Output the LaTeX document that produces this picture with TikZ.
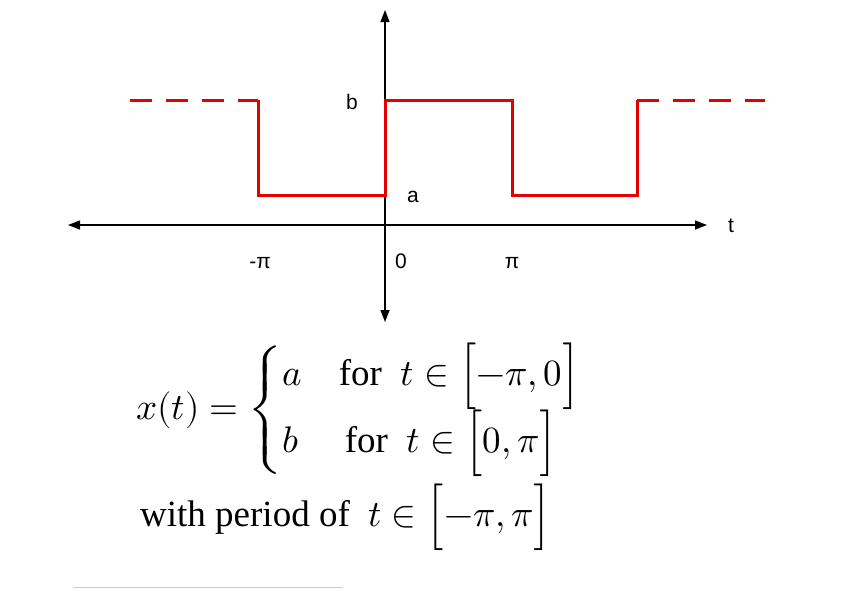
\documentclass[tikz,border=0pt]{standalone}
\usepackage{amsmath}
\usepackage{unicode-math}
\setmainfont{Liberation Serif}
\setmathfont{Latin Modern Math}
\newfontfamily\lab{Liberation Sans}
\usetikzlibrary{arrows.meta}
\tikzset{ax/.style={line width=1.4pt,{Triangle[length=12pt,width=9pt]}-{Triangle[length=12pt,width=9pt]}},
sig/.style={red!90!black,line width=3pt},
lbl/.style={font=\lab\fontsize{21}{24}\selectfont,inner sep=0pt}}
\begin{document}
\begin{tikzpicture}[x=1pt,y=-1pt]
\useasboundingbox (0,0) rectangle (866,590);
\coordinate (L) at (68,225); \coordinate (R) at (707,225);
\coordinate (T) at (385,10); \coordinate (B) at (385,322);
\draw[ax] (L) -- (R);
\draw[ax] (T) -- (B);
\draw[sig,dash pattern=on 22pt off 14pt] (130,100) -- (258,100);
\draw[sig] (258,100) -- (258,195) -- (385,195) -- (385,100) -- (512,100) -- (512,195) -- (637,195) -- (637,100);
\draw[sig,dash pattern=on 22pt off 14pt] (637,100) -- (765,100);
\node[lbl] (lb) at (352,102) {b};
\node[lbl] (la) at (413,197) {a};
\node[lbl] (lt) at (731,226) {t};
\node[lbl] (lmp) at (260,263) {-π};
\node[lbl] (l0) at (401,261) {0};
\node[lbl] (lp) at (512,263) {π};
\node[anchor=west,inner sep=0pt,font=\fontsize{37}{44}\selectfont] (f) at (136,410)
 {$x(t)=\begin{cases} a\quad\text{for }\ t\in\Bigl[-\pi,0\Bigr]\\[4pt] b\quad\ \text{for }\ t\in\Bigl[0,\pi\Bigr]\end{cases}$};
\node[anchor=west,inner sep=0pt,font=\fontsize{37}{44}\selectfont] (w) at (140,517)
 {with period of $\ t\in\Bigl[-\pi,\pi\Bigr]$};
\draw[gray!40,line width=0.8pt] (73,587) -- (343,587);
\end{tikzpicture}
\end{document}
